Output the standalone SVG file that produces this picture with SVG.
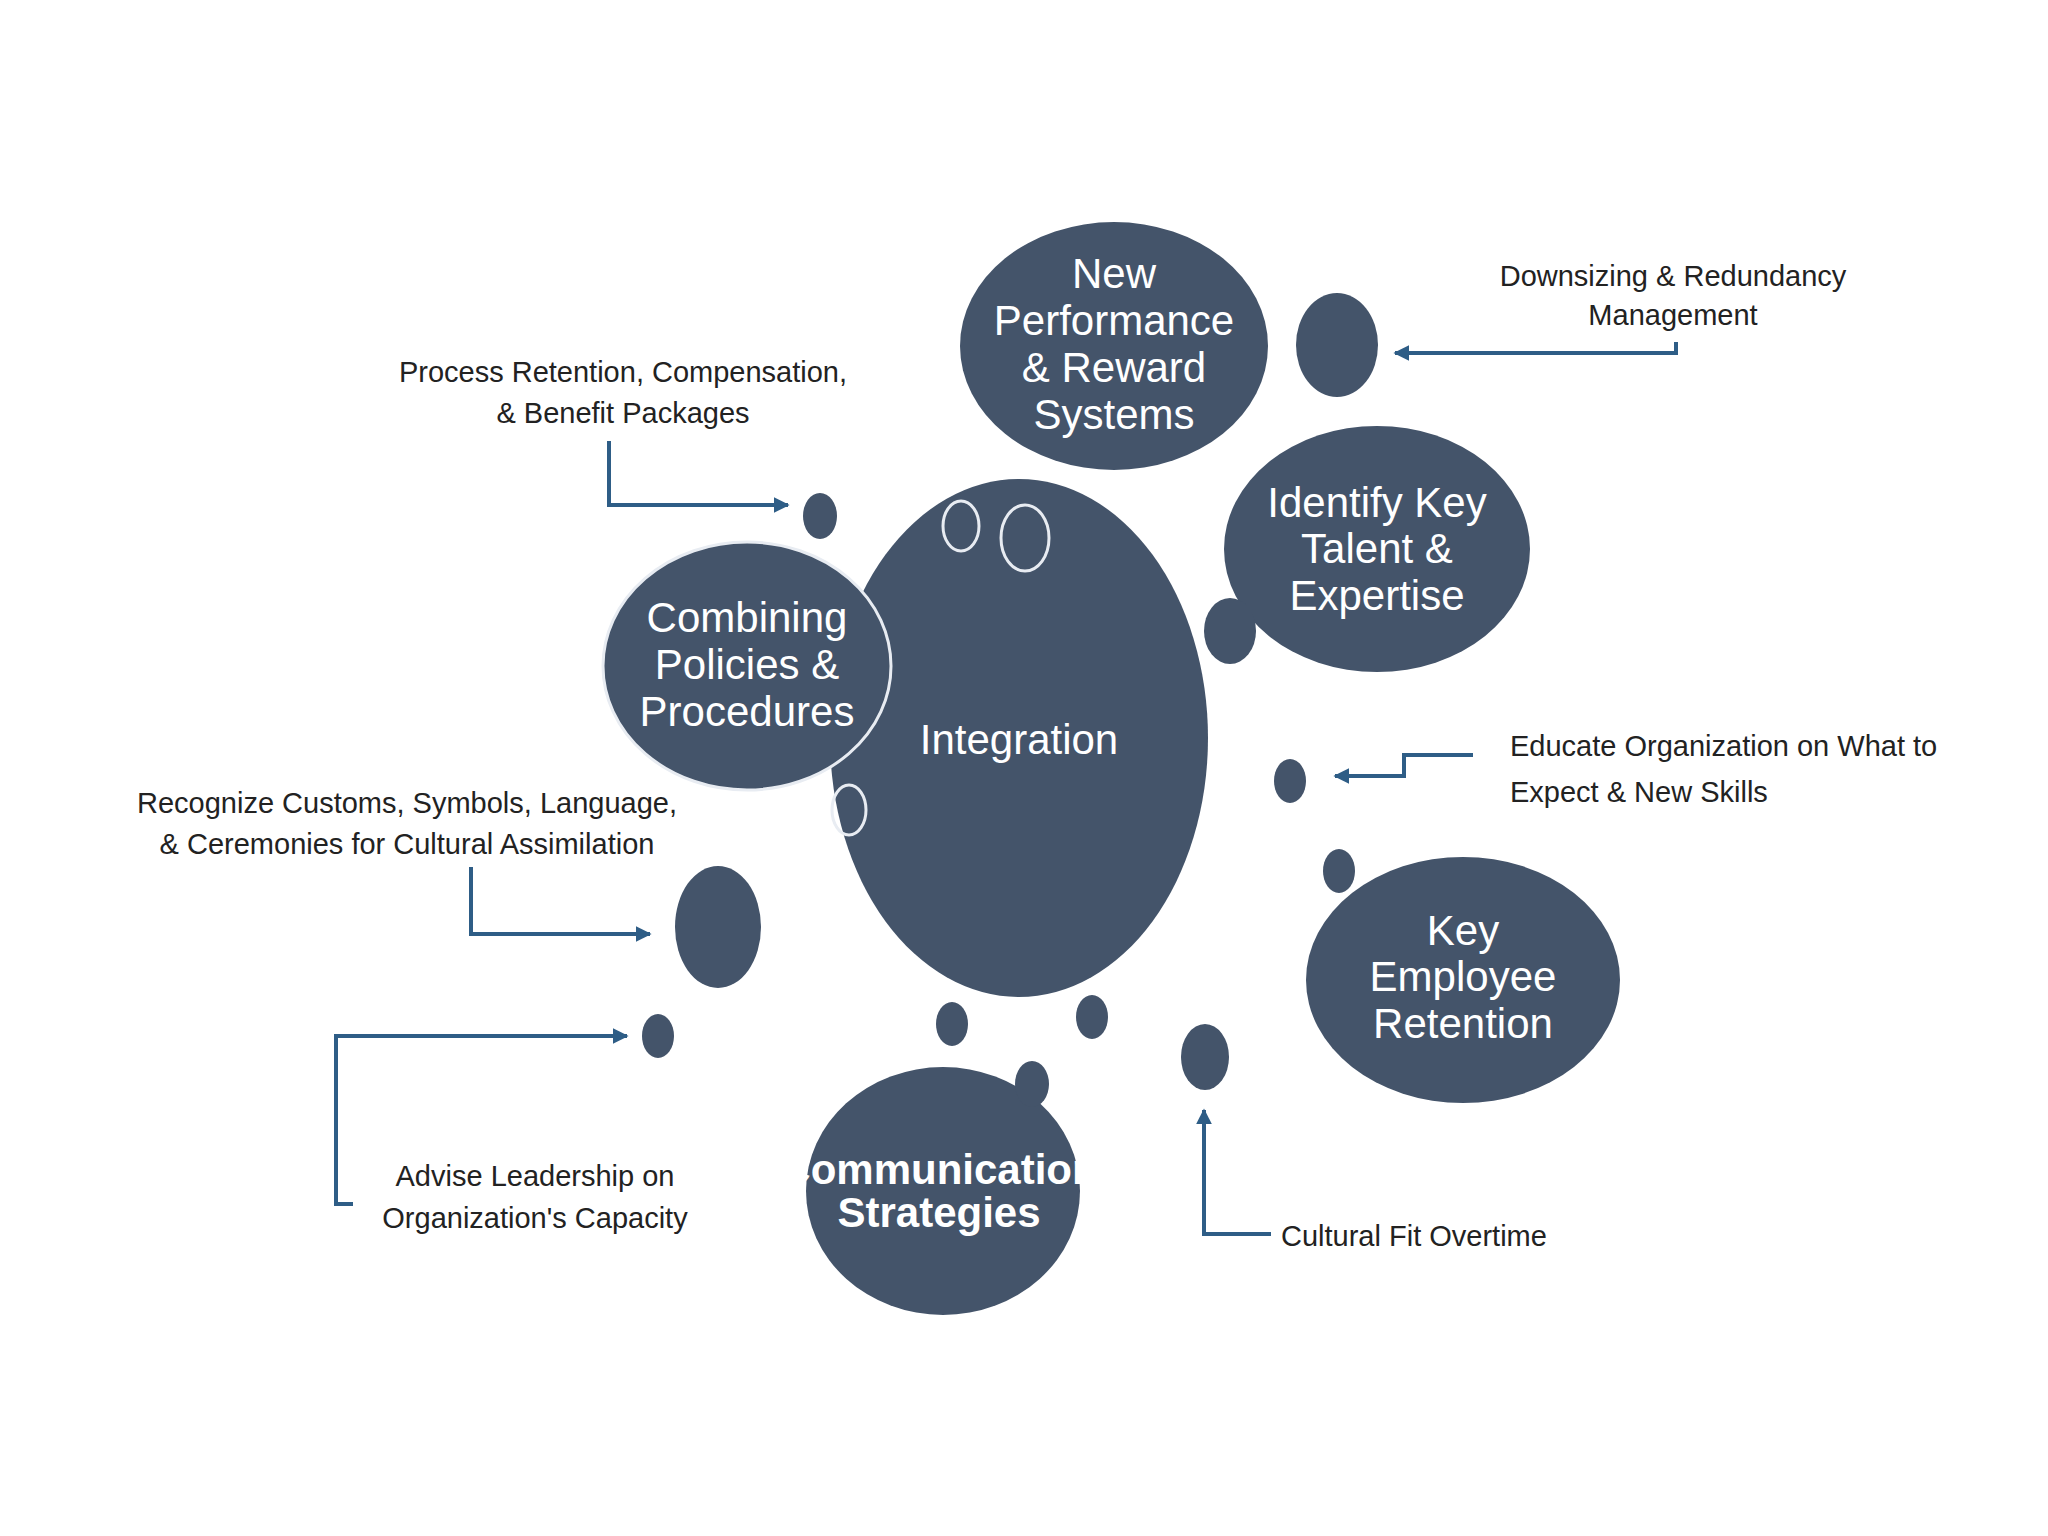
<svg xmlns="http://www.w3.org/2000/svg" width="2048" height="1536" viewBox="0 0 2048 1536">
<style>
.n{fill:#44546a}
.h{fill:none;stroke:#e8ecf2;stroke-width:3}
.t{font-family:"Liberation Sans Narrow","Liberation Sans",sans-serif;fill:#fff;text-anchor:middle;font-size:42px}
.l{font-family:"Liberation Sans Narrow","Liberation Sans",sans-serif;fill:#222;font-size:29px}
.c{fill:none;stroke:#2e5d86;stroke-width:4}
</style>
<defs><marker id="a" viewBox="0 0 10 10" refX="9" refY="5" markerWidth="4" markerHeight="4" orient="auto"><path d="M0,0L10,5L0,10z" fill="#2e5d86"/></marker></defs>
<rect width="2048" height="1536" fill="#fff"/>
<g id="integration"><ellipse class="n" cx="1019" cy="738" rx="189" ry="259"/><text class="t" x="1019" y="754" font-size="62">Integration</text></g>
<g id="combining"><ellipse class="n" cx="747" cy="666" rx="144" ry="124" stroke="#e8ecf2" stroke-width="3"/><text class="t"><tspan x="747" y="632">Combining</tspan><tspan x="747" y="679">Policies &amp;</tspan><tspan x="747" y="726">Procedures</tspan></text></g>
<g id="performance"><ellipse class="n" cx="1114" cy="346" rx="154" ry="124"/><text class="t"><tspan x="1114" y="288">New</tspan><tspan x="1114" y="335">Performance</tspan><tspan x="1114" y="382">&amp; Reward</tspan><tspan x="1114" y="429">Systems</tspan></text></g>
<g id="talent"><ellipse class="n" cx="1377" cy="549" rx="153" ry="123"/><text class="t"><tspan x="1377" y="517">Identify Key</tspan><tspan x="1377" y="563">Talent &amp;</tspan><tspan x="1377" y="610">Expertise</tspan></text></g>
<g id="retention"><ellipse class="n" cx="1463" cy="980" rx="157" ry="123"/><text class="t"><tspan x="1463" y="945">Key</tspan><tspan x="1463" y="991">Employee</tspan><tspan x="1463" y="1038">Retention</tspan></text></g>
<g id="communication"><ellipse class="n" cx="943" cy="1191" rx="137" ry="124"/><text class="t" font-size="32" font-weight="bold"><tspan x="939" y="1184">Communication</tspan><tspan x="939" y="1227">Strategies</tspan></text></g>
<g id="dots">
<ellipse class="n" cx="1337" cy="345" rx="41" ry="52"/>
<ellipse class="n" cx="1230" cy="631" rx="26" ry="33"/>
<ellipse class="n" cx="820" cy="516" rx="17" ry="23"/>
<ellipse class="h" cx="961" cy="526" rx="18" ry="25"/>
<ellipse class="h" cx="1025" cy="538" rx="24" ry="33"/>
<ellipse class="h" cx="849" cy="810" rx="17" ry="25"/>
<ellipse class="n" cx="1290" cy="781" rx="16" ry="22"/>
<ellipse class="n" cx="1339" cy="871" rx="16" ry="22"/>
<ellipse class="n" cx="718" cy="927" rx="43" ry="61"/>
<ellipse class="n" cx="658" cy="1036" rx="16" ry="22"/>
<ellipse class="n" cx="952" cy="1024" rx="16" ry="22"/>
<ellipse class="n" cx="1092" cy="1017" rx="16" ry="22"/>
<ellipse class="n" cx="1205" cy="1057" rx="24" ry="33"/>
<ellipse class="n" cx="1032" cy="1084" rx="17" ry="23"/>
</g>
<g id="labels">
<text class="l" text-anchor="middle"><tspan x="1673" y="286">Downsizing &amp; Redundancy</tspan><tspan x="1673" y="325">Management</tspan></text>
<text class="l" text-anchor="middle"><tspan x="623" y="382">Process Retention, Compensation,</tspan><tspan x="623" y="423">&amp; Benefit Packages</tspan></text>
<text class="l" text-anchor="middle"><tspan x="407" y="813">Recognize Customs, Symbols, Language,</tspan><tspan x="407" y="854">&amp; Ceremonies for Cultural Assimilation</tspan></text>
<text class="l" text-anchor="middle"><tspan x="535" y="1186">Advise Leadership on</tspan><tspan x="535" y="1228">Organization's Capacity</tspan></text>
<text class="l" font-size="35"><tspan x="1510" y="756">Educate Organization on What to</tspan><tspan x="1510" y="802">Expect &amp; New Skills</tspan></text>
<text class="l" font-size="40" x="1281" y="1246">Cultural Fit Overtime</text>
</g>
<g id="connectors">
<path class="c" d="M1676,342V353H1395" marker-end="url(#a)"/>
<path class="c" d="M609,441V505H788" marker-end="url(#a)"/>
<path class="c" d="M471,867V934H650" marker-end="url(#a)"/>
<path class="c" d="M353,1204H336V1036H627" marker-end="url(#a)"/>
<path class="c" d="M1473,755H1404V776H1335" marker-end="url(#a)"/>
<path class="c" d="M1271,1234H1204V1110" marker-end="url(#a)"/>
</g>
</svg>
